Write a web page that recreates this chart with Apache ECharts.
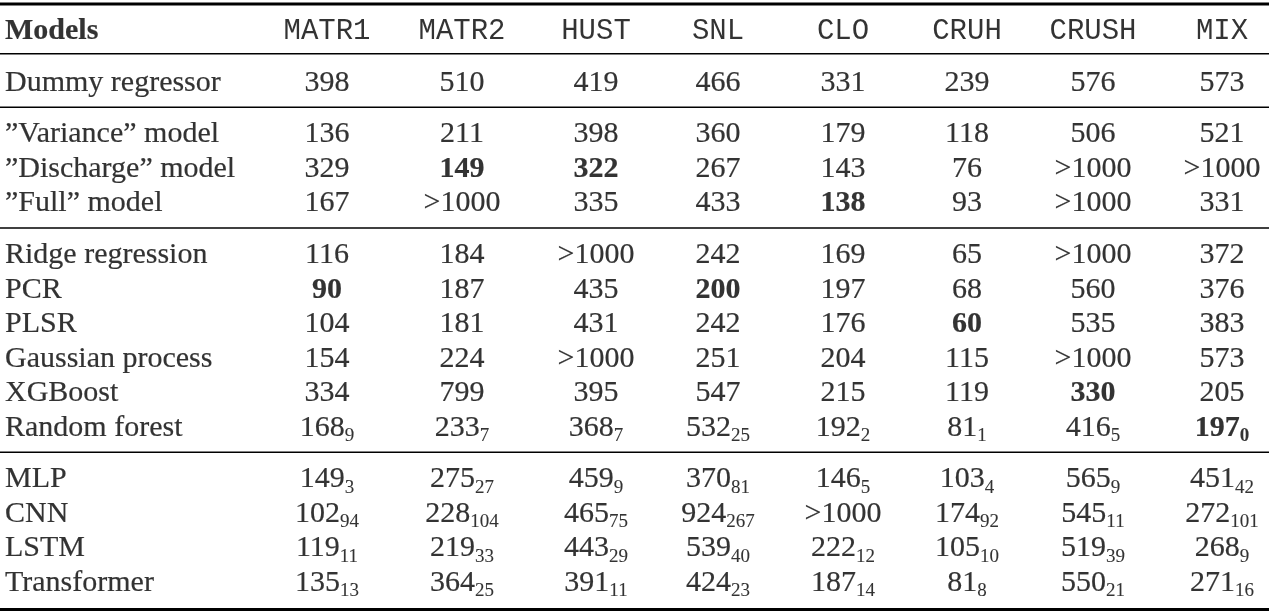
<!DOCTYPE html>
<html>
<head>
<meta charset="utf-8">
<title>RMSE table</title>
<script src="https://cdn.jsdelivr.net/npm/echarts@6/dist/echarts.min.js"></script>
<style>
    html, body { margin: 0; padding: 0; background: #fff; }
    #main { width: 1272px; height: 613px; }
</style>
</head>
<body>
<div id="main"></div>
<script>
// table content
var datasets = ['MATR1', 'MATR2', 'HUST', 'SNL', 'CLO', 'CRUH', 'CRUSH', 'MIX'];
var models = ['Dummy regressor', '\u201DVariance\u201D model', '\u201DDischarge\u201D model', '\u201DFull\u201D model',
    'Ridge regression', 'PCR', 'PLSR', 'Gaussian process', 'XGBoost', 'Random forest',
    'MLP', 'CNN', 'LSTM', 'Transformer'];
var groupSizes = [1, 3, 6, 4];
var rmse = [
    ['398', '510', '419', '466', '331', '239', '576', '573'],
    ['136', '211', '398', '360', '179', '118', '506', '521'],
    ['329', '149', '322', '267', '143', '76', '>1000', '>1000'],
    ['167', '>1000', '335', '433', '138', '93', '>1000', '331'],
    ['116', '184', '>1000', '242', '169', '65', '>1000', '372'],
    ['90', '187', '435', '200', '197', '68', '560', '376'],
    ['104', '181', '431', '242', '176', '60', '535', '383'],
    ['154', '224', '>1000', '251', '204', '115', '>1000', '573'],
    ['334', '799', '395', '547', '215', '119', '330', '205'],
    ['168', '233', '368', '532', '192', '81', '416', '197'],
    ['149', '275', '459', '370', '146', '103', '565', '451'],
    ['102', '228', '465', '924', '>1000', '174', '545', '272'],
    ['119', '219', '443', '539', '222', '105', '519', '268'],
    ['135', '364', '391', '424', '187', '81', '550', '271']
];
var stds = [
    null, null, null, null, null, null, null, null, null,
    ['9', '7', '7', '25', '2', '1', '5', '0'],
    ['3', '27', '9', '81', '5', '4', '9', '42'],
    ['94', '104', '75', '267', '', '92', '11', '101'],
    ['11', '33', '29', '40', '12', '10', '39', '9'],
    ['13', '25', '11', '23', '14', '8', '21', '16']
];
// row of the best (bold) result per dataset
var best = [5, 2, 2, 5, 3, 6, 8, 9];

// layout
var colX = [327, 462, 596, 718, 843, 967, 1093, 1222];
var nameX = 5;
var rowPx = 34.5, headerPx = 31;
var yMin = -headerPx / rowPx, yMax = yMin + 613 / rowPx;

// slot of every row: header is 0, half a row of extra space between groups
var rowSlot = [];
var g = 0, left = groupSizes[0];
for (var i = 0; i < models.length; i++) {
    if (left === 0) { g++; left = groupSizes[g]; }
    rowSlot.push(1 + i + 0.5 * (g + 1));
    left--;
}
var rules = [[-0.78, 3], [0.66, 1.5]];
var end = 0;
for (var k = 0; k < groupSizes.length; k++) {
    end += groupSizes[k];
    var last = k === groupSizes.length - 1;
    rules.push([rowSlot[end - 1] + (last ? 0.77 : 0.71), last ? 3 : 1.5]);
}

var headerCells = [{ value: [nameX, 0], text: '{hb|Models}', pos: 'right' }];
datasets.forEach(function (d, j) {
    headerCells.push({ value: [colX[j], 0], text: '{h|' + d + '}', pos: 'inside' });
});

var bodyCells = [];
models.forEach(function (m, i) {
    bodyCells.push({ value: [nameX, rowSlot[i]], text: '{m|' + m + '}', pos: 'right' });
    datasets.forEach(function (d, j) {
        var b = best[j] === i;
        var t = '{' + (b ? 'b' : 'm') + '|' + rmse[i][j] + '}';
        if (stds[i] && stds[i][j]) t += '{' + (b ? 'sb' : 's') + '|' + stds[i][j] + '}';
        bodyCells.push({ value: [colX[j], rowSlot[i]], text: t, pos: 'inside' });
    });
});

var serif = 'Liberation Serif';
var ink = { color: '#000', textBorderColor: '#000', textBorderWidth: 0.2 };
function st(o) { return Object.assign({}, ink, o); }
var rich = {
    m: st({ fontFamily: serif, fontSize: 30, lineHeight: 36 }),
    b: st({ fontFamily: serif, fontSize: 30, lineHeight: 36, fontWeight: 'bold' }),
    s: st({ fontFamily: serif, fontSize: 19, lineHeight: 17, verticalAlign: 'bottom', textBorderWidth: 0.1 }),
    sb: st({ fontFamily: serif, fontSize: 19, lineHeight: 17, verticalAlign: 'bottom', fontWeight: 'bold', textBorderWidth: 0.1 }),
    h: { fontFamily: 'Liberation Mono', fontSize: 29, lineHeight: 36, color: '#000' },
    hb: st({ fontFamily: serif, fontSize: 30, lineHeight: 36, fontWeight: 'bold' })
};

function toItems(cells) {
    return cells.map(function (c) {
        return {
            value: c.value,
            text: c.text,
            label: { position: c.pos, distance: 0 }
        };
    });
}

var myChart = echarts.init(document.getElementById('main'), null, { renderer: 'canvas' });
var option = {
    animation: false,
    backgroundColor: '#fff',
    grid: { left: 0, right: 0, top: 0, bottom: 0 },
    xAxis: { type: 'value', min: 0, max: 1272, show: false },
    yAxis: { type: 'value', min: yMin, max: yMax, inverse: true, show: false },
    series: [
        {
            type: 'custom',
            silent: true,
            data: rules.map(function (r) { return [0, r[0], r[1]]; }),
            renderItem: function (params, api) {
                var p0 = api.coord([0, api.value(1)]);
                var p1 = api.coord([1269, api.value(1)]);
                return {
                    type: 'line',
                    shape: { x1: p0[0], y1: p0[1], x2: p1[0], y2: p1[1] },
                    style: { stroke: '#000', lineWidth: api.value(2) }
                };
            }
        },
        {
            type: 'scatter',
            silent: true,
            symbolSize: 0,
            data: toItems(headerCells.concat(bodyCells)),
            label: {
                show: true,
                formatter: function (p) { return p.data.text; },
                rich: rich
            }
        }
    ]
};
myChart.setOption(option);
</script>
</body>
</html>
